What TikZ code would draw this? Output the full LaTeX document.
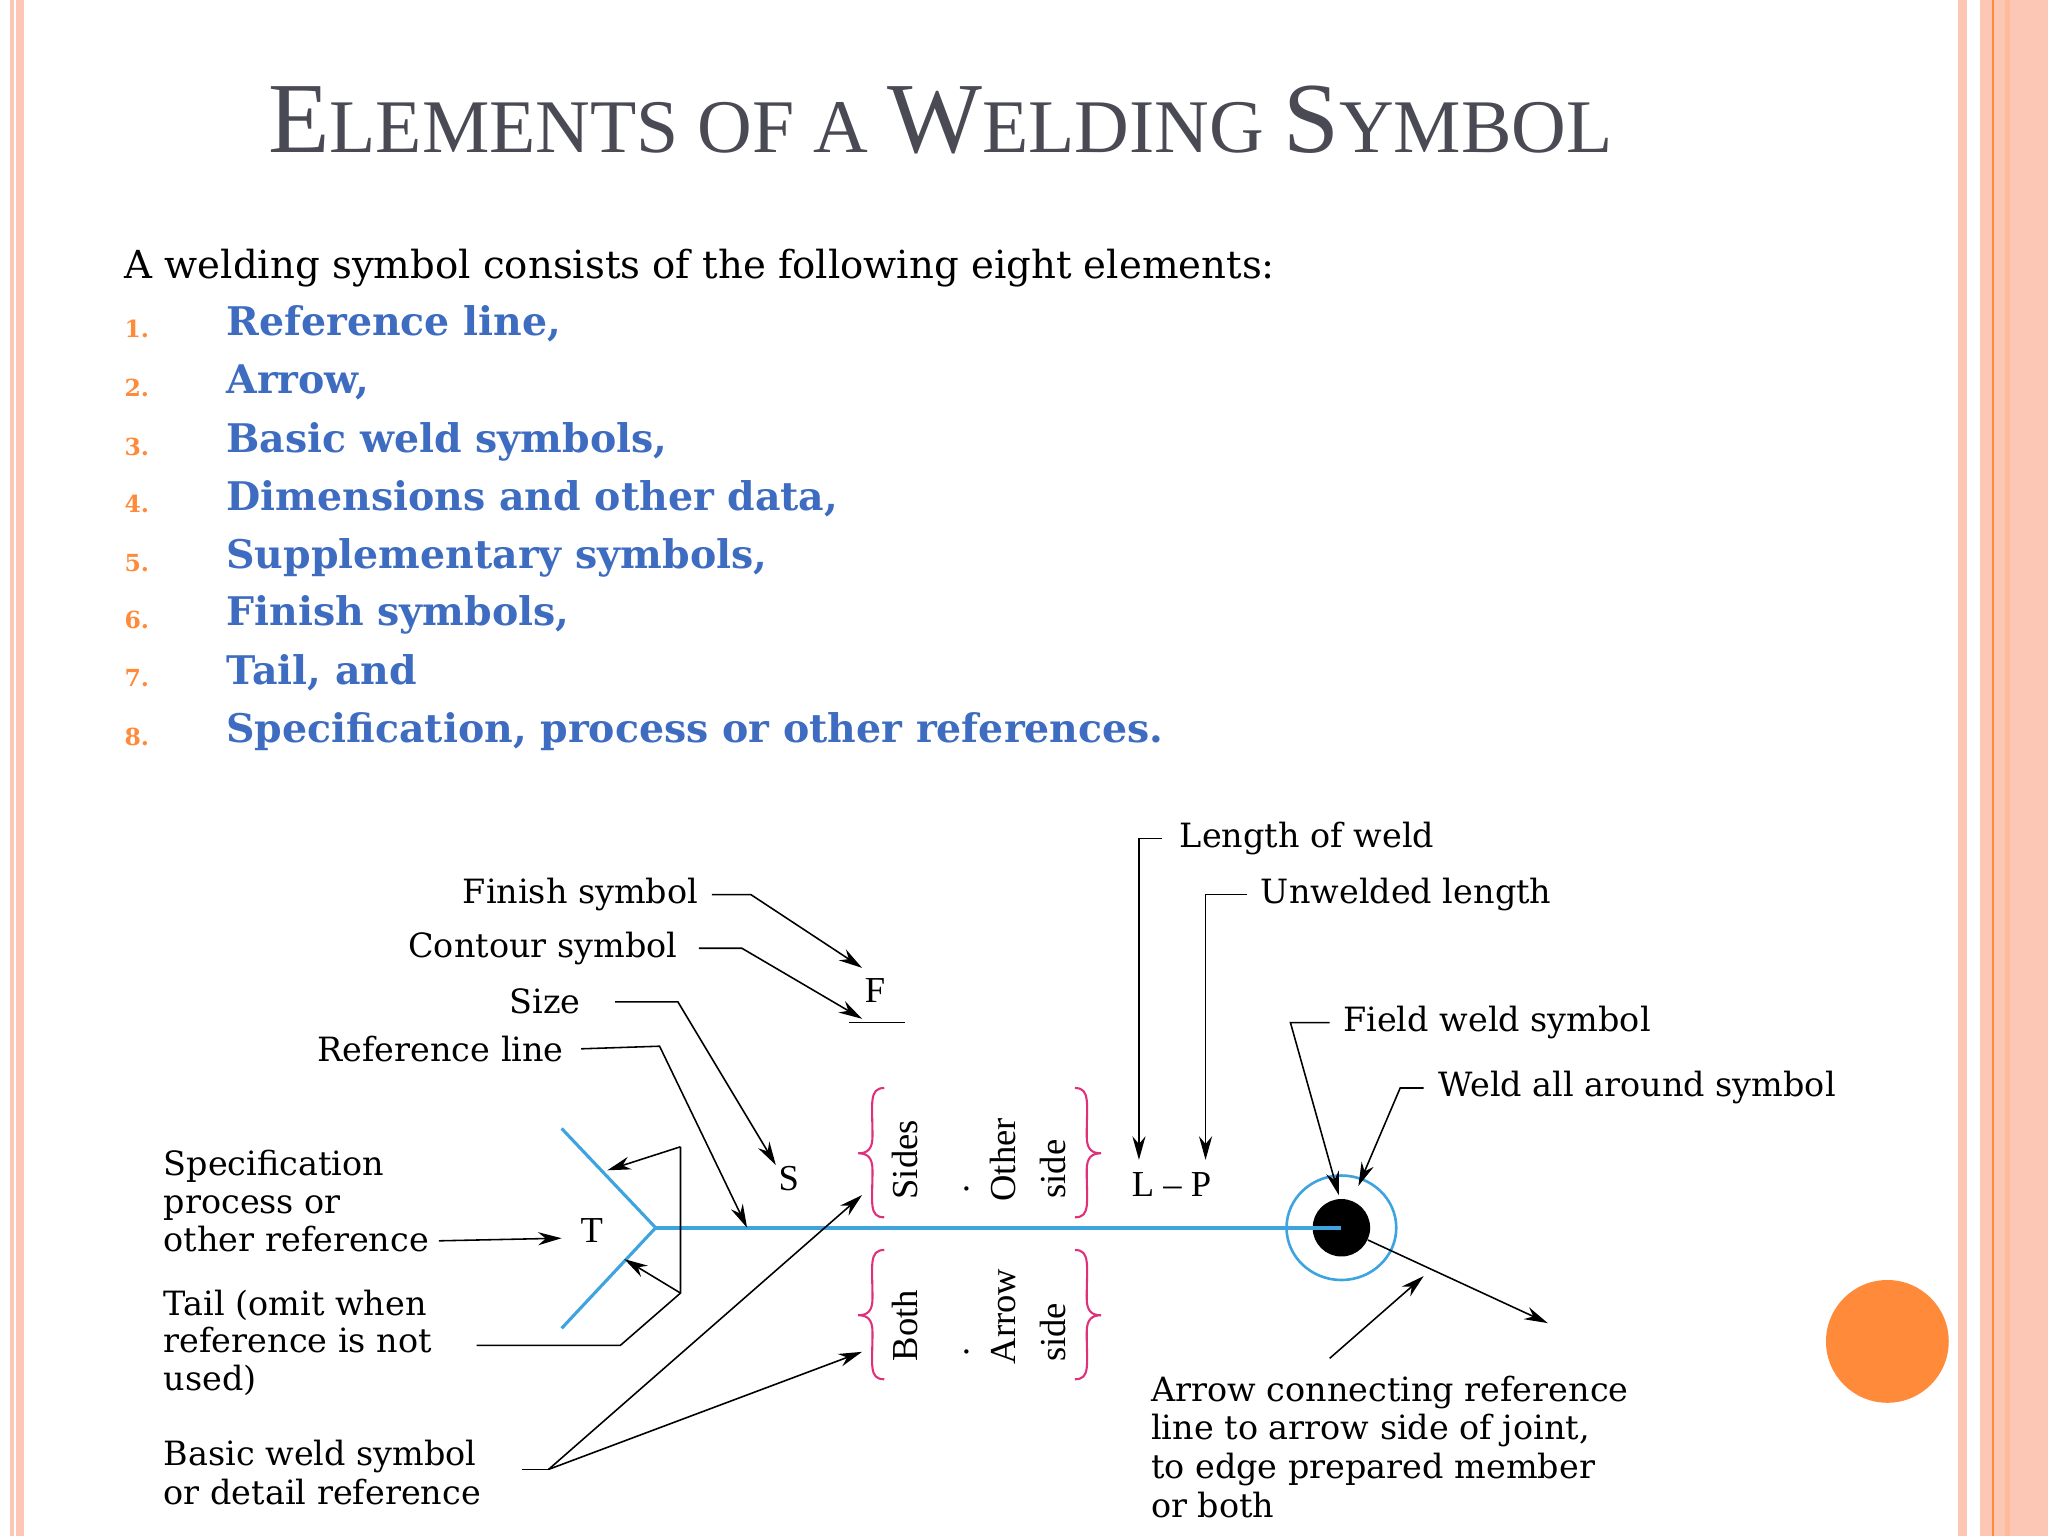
\documentclass[tikz,border=0pt]{standalone}
\usepackage{fontspec}
\setmainfont{Liberation Serif}
\newfontfamily\dvs{DejaVu Serif}
\usetikzlibrary{arrows.meta,shapes.geometric}
\definecolor{stripe}{HTML}{FDC7B5}
\definecolor{orng}{HTML}{FF8A3A}
\definecolor{itemblue}{HTML}{3E6CC0}
\definecolor{lblue}{HTML}{3DA4E0}
\definecolor{mag}{HTML}{E0307A}
\definecolor{ttl}{HTML}{4A4A55}
\newcommand{\bigc}[1]{{\fontsize{38.5}{44}\selectfont #1}}
\newcommand{\smc}[1]{{\fontsize{29}{34}\selectfont #1}}
\begin{document}
\begin{tikzpicture}[x=0.5pt,y=-0.5pt,
  lbl/.style={font=\dvs\fontsize{12.8}{15}\selectfont, inner sep=0pt},
  sym/.style={font=\fontsize{14}{16}\selectfont, inner sep=0pt},
  num/.style={font=\dvs\fontsize{9}{12}\selectfont\bfseries, text=orng, anchor=west, inner sep=0pt},
  itm/.style={font=\dvs\fontsize{15.1}{19}\selectfont\bfseries, text=itemblue, anchor=west, inner sep=0pt},
  ptr/.style={-{Stealth[length=9pt,width=5pt]}, line width=0.6pt},
  ln/.style={line width=0.6pt},
  rot/.style={font=\fontsize{14}{16}\selectfont, rotate=90, inner sep=0pt},
  brace/.style={mag, line width=0.8pt}]
\useasboundingbox (0,0) rectangle (1568,1176);
\fill[white] (0,0) rectangle (1568,1176);
% stripes
\fill[stripe] (8,0) rectangle (11,1176);
\fill[stripe] (12,0) rectangle (18.5,1176);
\fill[stripe] (1499,0) rectangle (1506,1176);
\fill[stripe] (1516,0) rectangle (1568,1176);
\fill[orng] (1525,0) rectangle (1527,1176);
\fill[stripe!80!orng] (1535,0) rectangle (1539,1176);
\node[fill=orng, circle, minimum size=47pt, inner sep=0pt] (dotc) at (1445,1027) {};
% title
\node[text=ttl, inner sep=0pt, anchor=base] (title) at (720,117) {\bigc{E}\smc{LEMENTS OF A }\bigc{W}\smc{ELDING }\bigc{S}\smc{YMBOL}};
\node[anchor=west, font=\dvs\fontsize{14.8}{19}\selectfont, inner sep=0pt] (intro) at (95,205) {A welding symbol consists of the following eight elements:};
\foreach \n/\y/\t in {1/248/{Reference line,},2/293/{Arrow,},3/338/{Basic weld symbols,},4/382/{Dimensions and other data,},5/427/{Supplementary symbols,},6/471/{Finish symbols,},7/515/{Tail, and},8/560/{Specification, process or other references.}}{
  \node[num] (n\n) at (95,\y+4) {\n.};
  \node[itm] (i\n) at (173,\y) {\t};
}
% diagram: reference line, tail
\coordinate (tip) at (502,940);
\coordinate (tu) at (430,864);
\coordinate (tl) at (430,1017);
\draw[lblue, line width=1.2pt] (tu) -- (tip) -- (tl);
\coordinate (rend) at (1027,940);
\draw[lblue, line width=1.6pt] (tip) -- (rend);
\node[draw=lblue, line width=1pt, ellipse, minimum width=42pt, minimum height=40pt, inner sep=0pt] (aa) at (rend) {};
\node[fill=black, circle, minimum size=22pt, inner sep=0pt] (fw) at (rend) {};
\draw[lblue, line width=1.6pt] (1000,940) -- (rend);
\coordinate (arrowend) at (1185,1013);
\draw[ptr] (fw) -- (arrowend);
% symbols
\node[sym] (T) at (453,942) {T};
\node[sym] (S) at (604,902) {S};
\node[sym] (F) at (670,758) {F};
\coordinate (fa) at (650,783); \coordinate (fb) at (693,783);
\draw[ln] (fa) -- (fb);
\node[sym] (LP) at (897,907) {L -- P};
% braces
\draw[brace] (677,833) .. controls (665,833) and (668,845) .. (668,870) .. controls (668,880) and (664,883) .. (657,883) .. controls (664,883) and (668,886) .. (668,896) .. controls (668,921) and (665,932) .. (677,932);
\draw[brace] (823,833) .. controls (835,833) and (832,845) .. (832,870) .. controls (832,880) and (836,883) .. (843,883) .. controls (836,883) and (832,886) .. (832,896) .. controls (832,921) and (835,932) .. (823,932);
\draw[brace] (677,957) .. controls (665,957) and (668,969) .. (668,994) .. controls (668,1004) and (664,1007) .. (657,1007) .. controls (664,1007) and (668,1010) .. (668,1020) .. controls (668,1045) and (665,1056) .. (677,1056);
\draw[brace] (823,957) .. controls (835,957) and (832,969) .. (832,994) .. controls (832,1004) and (836,1007) .. (843,1007) .. controls (836,1007) and (832,1010) .. (832,1020) .. controls (832,1045) and (835,1056) .. (823,1056);
\node[rot] (sides) at (693,888) {Sides};
\node[rot] (d1) at (740,910) {.};
\node[rot] (other) at (768,888) {Other};
\node[rot] (side1) at (806,895) {side};
\node[rot] (both) at (693,1015) {Both};
\node[rot] (d2) at (740,1035) {.};
\node[rot] (arrow) at (768,1008) {Arrow};
\node[rot] (side2) at (806,1020) {side};
% labels
\node[lbl, anchor=east] (finish) at (535,685) {Finish symbol};
\draw[ptr] (finish.east) ++(10,0) -- (575,685) -- (660,741);
\node[lbl, anchor=east] (contour) at (519,726) {Contour symbol};
\draw[ptr] (contour.east) ++(16,0) -- (568,726) -- (660,780);
\node[lbl, anchor=east] (size) at (445,767) {Size};
\draw[ptr] (size.east) ++(26,0) -- (519,767) -- (594,892);
\node[lbl, anchor=east] (refl) at (432,803) {Reference line};
\draw[ptr] (refl.east) ++(13,0) -- (505,801) -- (572,940);
\node[lbl, anchor=west] (lw) at (903,642) {Length of weld};
\draw[ptr] (lw.west) ++(-13,0) -- (872,642) -- (872,888);
\node[lbl, anchor=west] (ul) at (965,685) {Unwelded length};
\draw[ptr] (ul.west) ++(-10,0) -- (923,685) -- (923,888);
\node[lbl, anchor=west] (fws) at (1028,783) {Field weld symbol};
\draw[ptr] (fws.west) ++(-10,0) -- (988,783) -- (1025,915);
\node[lbl, anchor=west] (waa) at (1101,833) {Weld all around symbol};
\draw[ptr] (waa.west) ++(-11,0) -- (1072,833) -- (1040,908);
\node[lbl, anchor=north west, align=left, font=\dvs\fontsize{12.8}{14.5}\selectfont] (spec) at (125,880) {Specification\\process or\\other reference};
\draw[ptr] (336,950) -- (430,948);
\node[lbl, anchor=north west, align=left, font=\dvs\fontsize{12.8}{14.5}\selectfont] (tail) at (125,987) {Tail (omit when\\reference is not\\used)};
\coordinate (vt) at (521,878); \coordinate (vb) at (521,990);
\draw[ln] (365,1030) -- (475,1030) -- (vb) -- (vt);
\draw[ptr] (vt) -- (465,896);
\draw[ptr] (vb) -- (478,964);
\node[lbl, anchor=north west, align=left, font=\dvs\fontsize{12.8}{15}\selectfont] (basic) at (125,1102) {Basic weld symbol\\or detail reference};
\coordinate (bj) at (420,1125);
\draw[ln] (400,1125) -- (bj);
\draw[ptr] (bj) -- (660,915);
\draw[ptr] (bj) -- (660,1035);
\node[lbl, anchor=north west, align=left, font=\dvs\fontsize{12.8}{14.8}\selectfont] (conn) at (881,1053) {Arrow connecting reference\\line to arrow side of joint,\\to edge prepared member\\or both};
\draw[ptr] (1018,1040) -- (1090,977);
\end{tikzpicture}
\end{document}
